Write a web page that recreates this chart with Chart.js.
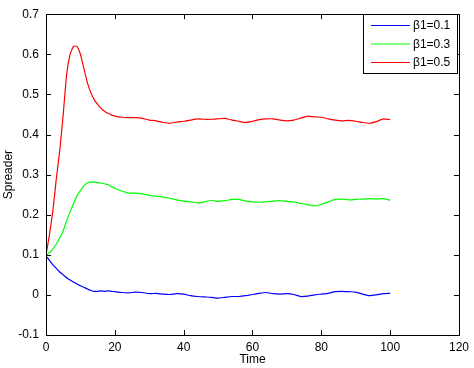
<!DOCTYPE html>
<html><head><meta charset="utf-8">
<script src="https://cdn.jsdelivr.net/npm/chart.js@4"></script>
<style>html,body{margin:0;padding:0;background:#fff}#wrap{width:474px;height:368px}</style>
</head><body><div id="wrap"><canvas id="c" width="474" height="368"></canvas></div>
<script>
const times = [0,1,2,3,4,5,6,7,8,9,10,11,12,13,14,15,16,17,18,19,20,
  22,24,26,28,30,32,34,36,38,40,42,44,46,48,50,52,54,56,58,60,62,64,66,68,70,72,74,76,78,80,82,84,86,88,90,92,94,96,98,100];
const beta01 = [0.097,0.086,0.075,0.066,0.057,0.050,0.043,0.037,0.032,0.027,0.023,0.019,0.015,0.011,0.009,0.009,0.010,0.009,0.010,0.009,0.008,
  0.006,0.005,0.007,0.006,0.003,0.004,0.002,0.001,0.003,0.002,-0.002,-0.004,-0.005,-0.006,-0.008,-0.006,-0.004,-0.004,-0.002,0.001,0.004,0.006,0.003,0.002,0.003,0.001,-0.004,-0.003,0.000,0.002,0.004,0.008,0.009,0.008,0.007,0.002,-0.002,0.000,0.003,0.004];
const beta03 = [0.100,0.105,0.115,0.127,0.142,0.160,0.185,0.207,0.228,0.247,0.260,0.272,0.279,0.281,0.281,0.280,0.279,0.277,0.275,0.270,0.266,
  0.259,0.254,0.254,0.252,0.248,0.246,0.244,0.241,0.237,0.234,0.232,0.229,0.232,0.236,0.233,0.235,0.238,0.238,0.234,0.232,0.231,0.232,0.234,0.235,0.233,0.232,0.228,0.225,0.222,0.226,0.232,0.238,0.239,0.237,0.238,0.239,0.240,0.239,0.240,0.236];
const beta05 = [0.100,0.150,0.210,0.290,0.360,0.450,0.550,0.600,0.620,0.620,0.600,0.565,0.530,0.505,0.487,0.475,0.465,0.458,0.453,0.449,0.446,
  0.443,0.442,0.442,0.440,0.436,0.434,0.430,0.428,0.431,0.433,0.436,0.439,0.438,0.438,0.439,0.440,0.436,0.433,0.430,0.433,0.437,0.439,0.439,0.436,0.434,0.436,0.441,0.446,0.444,0.443,0.439,0.436,0.434,0.435,0.433,0.430,0.428,0.432,0.439,0.437];
const seriesLabels = ['\u03b21=0.1','\u03b21=0.3','\u03b21=0.5'];
const seriesColors = ['#0000ff','#00ff00','#ff0000'];
const xTicks = [0,20,40,60,80,100,120];
const yTicks = [-0.1,0,0.1,0.2,0.3,0.4,0.5,0.6,0.7];

const pts = arr => arr.map((v,i)=>({x:times[i],y:v}));
const FONT = {family:'"Liberation Sans", Arial, sans-serif', size:11};

const frame = {
  id:'frame',
  afterDraw(chart){
    const {ctx, chartArea:a, scales:{x,y}} = chart;
    ctx.save();
    ctx.strokeStyle='#000'; ctx.lineWidth=1;
    ctx.strokeRect(Math.round(a.left)+0.5, Math.round(a.top)+0.5, Math.round(a.right-a.left), Math.round(a.bottom-a.top));
    const L=5;
    ctx.beginPath();
    xTicks.forEach(t=>{const px=Math.round(x.getPixelForValue(t))+0.5;
      ctx.moveTo(px,a.bottom); ctx.lineTo(px,a.bottom-L);
      ctx.moveTo(px,a.top); ctx.lineTo(px,a.top+L);});
    yTicks.forEach(t=>{const py=Math.round(y.getPixelForValue(t))+0.5;
      ctx.moveTo(a.left,py); ctx.lineTo(a.left+L,py);
      ctx.moveTo(a.right,py); ctx.lineTo(a.right-L,py);});
    ctx.stroke();
    // legend box
    const bx=363.5, by=14.5, bw=94, bh=59;
    ctx.fillStyle='#fff'; ctx.fillRect(bx,by,bw,bh); ctx.strokeRect(bx,by,bw,bh);
    ctx.font='12px "Liberation Sans", Arial, sans-serif';
    ctx.textBaseline='middle'; ctx.textAlign='left';
    chart.data.datasets.forEach((ds,i)=>{
      const yy = 25 + i*18.5;
      ctx.strokeStyle=ds.borderColor; ctx.beginPath();
      ctx.moveTo(371,yy+0.5); ctx.lineTo(410,yy+0.5); ctx.stroke();
      ctx.fillStyle='#000'; ctx.fillText(ds.label,413,yy+1);
    });
    ctx.restore();
  }
};

new Chart(document.getElementById('c'),{
  type:'line',
  data:{datasets:[
    {label:seriesLabels[0],data:pts(beta01),borderColor:seriesColors[0]},
    {label:seriesLabels[1],data:pts(beta03),borderColor:seriesColors[1]},
    {label:seriesLabels[2],data:pts(beta05),borderColor:seriesColors[2]}
  ]},
  options:{
    responsive:false,animation:false,
    layout:{padding:{top:7,right:11,left:0,bottom:0}},
    elements:{point:{radius:0},line:{borderWidth:1.2,tension:0.15}},
    plugins:{legend:{display:false},tooltip:{enabled:false}},
    scales:{
      x:{type:'linear',min:0,max:120,
        afterBuildTicks:s=>{s.ticks=xTicks.map(v=>({value:v}));},
        afterFit:s=>{s.height=33;},
        grid:{display:false,drawTicks:false},
        border:{display:false},
        ticks:{font:{...FONT,size:12},color:'#000',padding:5,maxRotation:0,autoSkip:false},
        title:{display:true,text:'Time',font:{...FONT,size:12},color:'#000',padding:{top:0,bottom:1}}
      },
      y:{type:'linear',min:-0.1,max:0.7,
        afterBuildTicks:s=>{s.ticks=yTicks.map(v=>({value:v}));},
        afterFit:s=>{s.width=46;},
        grid:{display:false,drawTicks:false},
        border:{display:false},
        ticks:{font:{...FONT,size:12},color:'#000',padding:7,autoSkip:false,callback:v=>String(Math.round(v*10)/10)},
        title:{display:true,text:'Spreader',font:{...FONT,size:12},color:'#000',padding:{top:1,bottom:0}}
      }
    }
  },
  plugins:[frame]
});
</script></body></html>
